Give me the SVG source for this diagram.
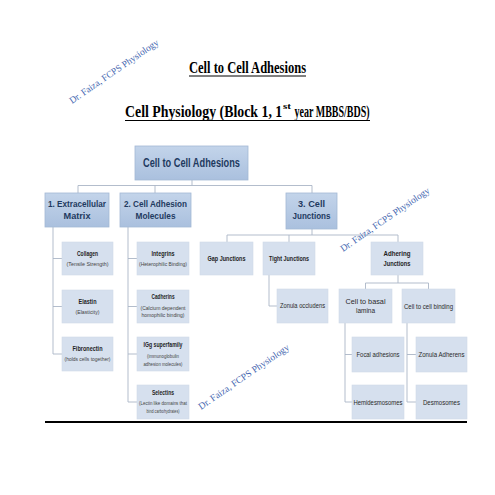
<svg xmlns="http://www.w3.org/2000/svg" width="495" height="495" viewBox="0 0 495 495">
<defs>
<linearGradient id="lg" x1="0" y1="0" x2="0" y2="1">
<stop offset="0" stop-color="#c3d4ea"/>
<stop offset="1" stop-color="#aac0de"/>
</linearGradient>
<style>
.title{font-family:"Liberation Serif",serif;font-weight:bold;fill:#000}
.wm{font-family:"Liberation Serif",serif;fill:#4466b0;font-size:9.5px}
.lvl rect{fill:url(#lg);stroke:#a4b8d4;stroke-width:0.8}
.lvl text{font-family:"Liberation Sans",sans-serif;font-weight:bold;fill:#1f3a60;text-anchor:middle}
.leaf rect{fill:#d6e0ee;stroke:#d0d9e8;stroke-width:0.6}
.leaf text{font-family:"Liberation Sans",sans-serif;fill:#2a2a2a;text-anchor:middle;font-size:6.4px}
.leaf text.h{font-weight:bold;font-size:6.6px;fill:#1e1e1e}
.leaf text.s{font-size:5.4px;fill:#444}
#connectors path{fill:none;stroke:#aab6c6;stroke-width:0.9}
</style>
</defs>
<rect width="495" height="495" fill="#fff"/>

<text class="title" x="189" y="73" font-size="16" textLength="117" lengthAdjust="spacingAndGlyphs">Cell to Cell Adhesions</text>
<line x1="189" y1="76" x2="306" y2="76" stroke="#000" stroke-width="1"/>
<text class="title" transform="translate(125,117) scale(0.84,1)" font-size="16.5">Cell Physiology (Block 1, 1</text>
<text class="title" x="283" y="109" font-size="8" textLength="8" lengthAdjust="spacingAndGlyphs">st</text>
<text class="title" transform="translate(294.5,117) scale(0.607,1)" font-size="16.5">year MBBS/BDS)</text>
<line x1="125" y1="120.5" x2="370" y2="120.5" stroke="#000" stroke-width="1"/>

<g id="connectors">
<path d="M192 180V185.5M78 193V185.5H312V193M155 185.5V193"/>
<path d="M53 227V354M53 258.5H62M53 306.5H62M53 354H62"/>
<path d="M128 227V402M128 258.5H137M128 306.5H137M128 354H137M128 402H137"/>
<path d="M312 229V235M227 242V235H398V242M289 235V242"/>
<path d="M269 275V306H277"/>
<path d="M398 275V283M365.5 289V283H428.5V289"/>
<path d="M345 323V402M345 354.5H352M345 402H352"/>
<path d="M407 323V402M407 354.5H416M407 402H416"/>
</g>

<g id="root" class="lvl"><rect x="135" y="146" width="113" height="34"/><text x="191.5" y="167" font-size="12.5" textLength="97" lengthAdjust="spacingAndGlyphs">Cell to Cell Adhesions</text></g>
<g id="ecm" class="lvl"><rect x="45" y="193" width="64" height="34"/><text x="77" y="207" font-size="8.5" textLength="58" lengthAdjust="spacingAndGlyphs">1. Extracellular</text><text x="77" y="219" font-size="8.5" textLength="27" lengthAdjust="spacingAndGlyphs">Matrix</text></g>
<g id="cam" class="lvl"><rect x="120" y="193" width="71" height="34"/><text x="155.5" y="207" font-size="8.5" textLength="63" lengthAdjust="spacingAndGlyphs">2. Cell Adhesion</text><text x="155.5" y="219" font-size="8.5" textLength="40" lengthAdjust="spacingAndGlyphs">Molecules</text></g>
<g id="cj" class="lvl"><rect x="286" y="193" width="51" height="36"/><text x="311.5" y="207" font-size="8.5" textLength="27" lengthAdjust="spacingAndGlyphs">3. Cell</text><text x="311.5" y="219" font-size="8.5" textLength="38" lengthAdjust="spacingAndGlyphs">Junctions</text></g>

<g id="collagen" class="leaf"><rect x="62" y="242" width="51" height="33"/><text class="h" x="87.5" y="256" textLength="21" lengthAdjust="spacingAndGlyphs">Collagen</text><text class="s" x="87.5" y="266" textLength="42" lengthAdjust="spacingAndGlyphs">(Tensile Strength)</text></g>
<g id="elastin" class="leaf"><rect x="62" y="290" width="51" height="33"/><text class="h" x="87.5" y="304" textLength="18" lengthAdjust="spacingAndGlyphs">Elastin</text><text class="s" x="87.5" y="313.5" textLength="24" lengthAdjust="spacingAndGlyphs">(Elasticity)</text></g>
<g id="fibronectin" class="leaf"><rect x="62" y="337" width="51" height="34"/><text class="h" x="87.5" y="351" textLength="30" lengthAdjust="spacingAndGlyphs">Fibronectin</text><text class="s" x="87.5" y="361" textLength="46" lengthAdjust="spacingAndGlyphs">(holds cells together)</text></g>

<g id="integrins" class="leaf"><rect x="137" y="242" width="52" height="33"/><text class="h" x="163" y="256" textLength="23" lengthAdjust="spacingAndGlyphs">Integrins</text><text class="s" x="163" y="266" textLength="48" lengthAdjust="spacingAndGlyphs">(Heterophilic Binding)</text></g>
<g id="cadherins" class="leaf"><rect x="137" y="290" width="52" height="33"/><text class="h" x="163" y="299" textLength="23" lengthAdjust="spacingAndGlyphs">Cadherins</text><text class="s" x="163" y="309.5" textLength="45" lengthAdjust="spacingAndGlyphs">(Calcium dependent</text><text class="s" x="163" y="317" textLength="43" lengthAdjust="spacingAndGlyphs">homophilic binding)</text></g>
<g id="igg" class="leaf"><rect x="137" y="337" width="52" height="34"/><text class="h" x="163" y="347" textLength="39" lengthAdjust="spacingAndGlyphs">IGg superfamily</text><text class="s" x="163" y="358" textLength="32" lengthAdjust="spacingAndGlyphs">(immunoglobulin</text><text class="s" x="163" y="365.5" textLength="39" lengthAdjust="spacingAndGlyphs">adhesion molecules)</text></g>
<g id="selectins" class="leaf"><rect x="137" y="385" width="52" height="34"/><text class="h" x="163" y="395" textLength="22" lengthAdjust="spacingAndGlyphs">Selectins</text><text class="s" x="163" y="405" textLength="48" lengthAdjust="spacingAndGlyphs">(Lectin like domains that</text><text class="s" x="163" y="412.5" textLength="33" lengthAdjust="spacingAndGlyphs">bind carbohydrates)</text></g>

<g id="gap" class="leaf"><rect x="200" y="242" width="53" height="33"/><text class="h" x="226.5" y="260.5" textLength="38" lengthAdjust="spacingAndGlyphs">Gap Junctions</text></g>
<g id="tight" class="leaf"><rect x="263" y="242" width="52" height="33"/><text class="h" x="289" y="260.5" textLength="40" lengthAdjust="spacingAndGlyphs">Tight Junctions</text></g>
<g id="zo" class="leaf"><rect x="277" y="289" width="51" height="34"/><text x="302.5" y="308" textLength="45" lengthAdjust="spacingAndGlyphs">Zonula occludens</text></g>
<g id="adhering" class="leaf"><rect x="371" y="242" width="52" height="33"/><text class="h" x="397" y="256" textLength="27" lengthAdjust="spacingAndGlyphs">Adhering</text><text class="h" x="397" y="265.5" textLength="27" lengthAdjust="spacingAndGlyphs">Junctions</text></g>
<g id="basal" class="leaf"><rect x="339" y="289" width="53" height="34"/><text x="365.5" y="304" textLength="40" lengthAdjust="spacingAndGlyphs">Cell to basal</text><text x="365.5" y="312.5" textLength="19" lengthAdjust="spacingAndGlyphs">lamina</text></g>
<g id="cellbind" class="leaf"><rect x="402" y="289" width="53" height="34"/><text x="428.5" y="308.5" textLength="49" lengthAdjust="spacingAndGlyphs">Cell to cell binding</text></g>
<g id="focal" class="leaf"><rect x="352" y="337" width="52" height="35"/><text x="378" y="357" textLength="43" lengthAdjust="spacingAndGlyphs">Focal adhesions</text></g>
<g id="za" class="leaf"><rect x="416" y="337" width="51" height="35"/><text x="441.5" y="357" textLength="46" lengthAdjust="spacingAndGlyphs">Zonula Adherens</text></g>
<g id="hemi" class="leaf"><rect x="352" y="385" width="52" height="34"/><text x="378" y="404.5" textLength="49" lengthAdjust="spacingAndGlyphs">Hemidesmosomes</text></g>
<g id="desmo" class="leaf"><rect x="416" y="385" width="51" height="34"/><text x="441.5" y="404.5" textLength="37" lengthAdjust="spacingAndGlyphs">Desmosomes</text></g>

<line x1="45" y1="422" x2="467" y2="422" stroke="#000" stroke-width="2"/>

<text class="wm" transform="translate(72,104) rotate(-34.5)" textLength="106" lengthAdjust="spacingAndGlyphs">Dr. Faiza, FCPS Physiology</text>
<text class="wm" transform="translate(343,252) rotate(-34.5)" textLength="106" lengthAdjust="spacingAndGlyphs">Dr. Faiza, FCPS Physiology</text>
<text class="wm" transform="translate(201,410) rotate(-34.5)" textLength="108" lengthAdjust="spacingAndGlyphs">Dr. Faiza, FCPS Physiology</text>
</svg>
